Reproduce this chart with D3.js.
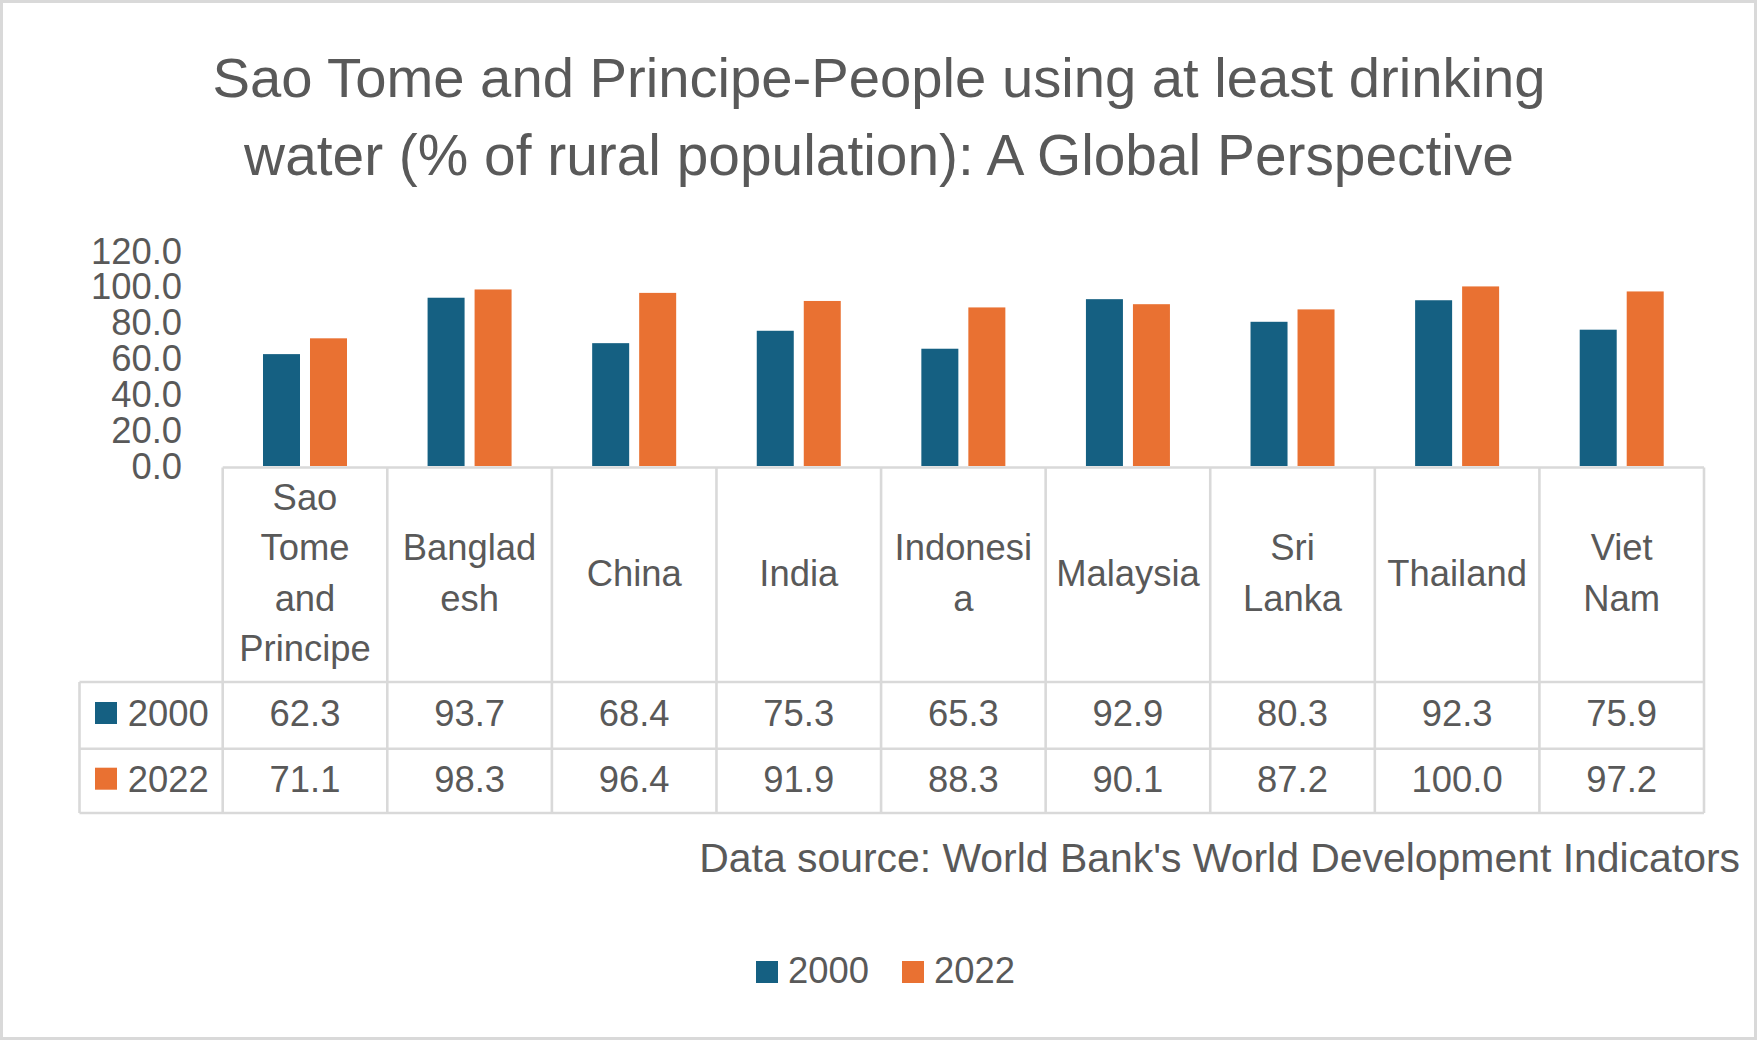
<!DOCTYPE html>
<html>
<head>
<meta charset="utf-8">
<script src="https://cdn.jsdelivr.net/npm/d3@7"></script>
<style>
  html, body { margin: 0; padding: 0; background: #fff; }
  svg { display: block; }
  text { font-family: "Liberation Sans", Arial, sans-serif; fill: #595959; }
</style>
</head>
<body>
<svg id="chart" width="1757" height="1040"></svg>
<script>
// ---- data ----
const titleLines = ["Sao Tome and Principe-People using at least drinking", "water (% of rural population): A Global Perspective"];
const categories = ["Sao Tome and Principe", "Bangladesh", "China", "India", "Indonesia", "Malaysia", "Sri Lanka", "Thailand", "Viet Nam"];
const categoryLabelLines = [["Sao", "Tome", "and", "Principe"], ["Banglad", "esh"], ["China"], ["India"], ["Indonesi", "a"], ["Malaysia"], ["Sri", "Lanka"], ["Thailand"], ["Viet", "Nam"]];
const seriesNames = ["2000", "2022"];
const values2000 = [62.3, 93.7, 68.4, 75.3, 65.3, 92.9, 80.3, 92.3, 75.9];
const values2022 = [71.1, 98.3, 96.4, 91.9, 88.3, 90.1, 87.2, 100.0, 97.2];
const yTicks = [0, 20, 40, 60, 80, 100, 120];
const sourceText = "Data source: World Bank's World Development Indicators";

const colors = ["#156082", "#E97132"];
const gridColor = "#d9d9d9";
const fs = 36.4;

const svg = d3.select("#chart");
const W = 1757, H = 1040;

// outer frame
svg.append("rect").attr("x", 1.5).attr("y", 1.5).attr("width", W - 3).attr("height", H - 3)
  .attr("fill", "#fff").attr("stroke", gridColor).attr("stroke-width", 3);

function fitText(sel, targetWidth) {
  const node = sel.node();
  const w = node.getComputedTextLength();
  const cur = parseFloat(sel.attr("font-size"));
  sel.attr("font-size", cur * targetWidth / w);
}

// title
const t1 = svg.append("text").attr("x", 879).attr("y", 97).attr("text-anchor", "middle")
  .attr("font-size", 58.7).text(titleLines[0]);
fitText(t1, 1333);
const t2 = svg.append("text").attr("x", 879).attr("y", 175).attr("text-anchor", "middle")
  .attr("font-size", 58.7).text(titleLines[1]);
fitText(t2, 1270);

// scales
const x0 = 222.7, x1 = 1704;
const x = d3.scaleBand().domain(categories).range([x0, x1]).paddingInner(0).paddingOuter(0);
const y = d3.scaleLinear().domain([0, 120]).range([466, 250.5]);
const barW = 37, gap = 10;

// y axis labels
const yAxis = d3.axisLeft(y).tickValues(yTicks).tickFormat(d3.format(".1f")).tickSize(0).tickPadding(0);
const gy = svg.append("g").attr("transform", "translate(182,0)").call(yAxis);
gy.select(".domain").remove();
gy.selectAll("text").attr("font-size", fs).attr("font-family", '"Liberation Sans", Arial, sans-serif')
  .attr("fill", "#595959").attr("dy", null).attr("dominant-baseline", "central");

// bars
const series = [values2000, values2022];
series.forEach((vals, si) => {
  svg.append("g").selectAll("rect").data(vals).join("rect")
    .attr("x", (d, i) => {
      const c = x(categories[i]) + x.bandwidth() / 2;
      return si === 0 ? c - gap / 2 - barW : c + gap / 2;
    })
    .attr("y", d => y(d))
    .attr("width", barW)
    .attr("height", d => y(0) - y(d))
    .attr("fill", colors[si]);
});

// data table
const yTop = 467.5, yRow1 = 682, yRow2 = 748.7, yBot = 813, xLeft = 79.5;
const lines = svg.append("g").attr("stroke", gridColor).attr("stroke-width", 2.6).attr("fill", "none");
lines.append("line").attr("x1", x0).attr("x2", x1).attr("y1", yTop).attr("y2", yTop);
[yRow1, yRow2, yBot].forEach(yy => lines.append("line").attr("x1", xLeft).attr("x2", x1).attr("y1", yy).attr("y2", yy));
lines.append("line").attr("x1", xLeft).attr("x2", xLeft).attr("y1", yRow1).attr("y2", yBot);
categories.forEach(c => lines.append("line").attr("x1", x(c)).attr("x2", x(c)).attr("y1", yTop).attr("y2", yBot));
lines.append("line").attr("x1", x1).attr("x2", x1).attr("y1", yTop).attr("y2", yBot);

// category labels
const lineGap = 50.3, midBase = 585.6;
categories.forEach((c, i) => {
  const ls = categoryLabelLines[i];
  const cx = x(c) + x.bandwidth() / 2;
  ls.forEach((l, j) => {
    svg.append("text").attr("x", cx).attr("y", midBase + (j - (ls.length - 1) / 2) * lineGap)
      .attr("text-anchor", "middle").attr("font-size", fs).text(l);
  });
});

// value rows
const rowBase = [726, 791.7];
series.forEach((vals, si) => {
  svg.append("g").selectAll("text").data(vals).join("text")
    .attr("x", (d, i) => x(categories[i]) + x.bandwidth() / 2)
    .attr("y", rowBase[si])
    .attr("text-anchor", "middle").attr("font-size", fs)
    .text(d => d3.format(".1f")(d));
  svg.append("rect").attr("x", 95).attr("y", rowBase[si] - 24).attr("width", 22).attr("height", 22).attr("fill", colors[si]);
  svg.append("text").attr("x", 127.7).attr("y", rowBase[si]).attr("font-size", fs).text(seriesNames[si]);
});

// source
const src = svg.append("text").attr("x", 1740).attr("y", 871.7).attr("text-anchor", "end")
  .attr("font-size", 39.5).text(sourceText);
fitText(src, 1041);

// legend
const legX = [756, 902];
seriesNames.forEach((s, i) => {
  svg.append("rect").attr("x", legX[i]).attr("y", 961).attr("width", 22).attr("height", 22).attr("fill", colors[i]);
  svg.append("text").attr("x", legX[i] + 32).attr("y", 983.3).attr("font-size", fs).text(s);
});
</script>
</body>
</html>
